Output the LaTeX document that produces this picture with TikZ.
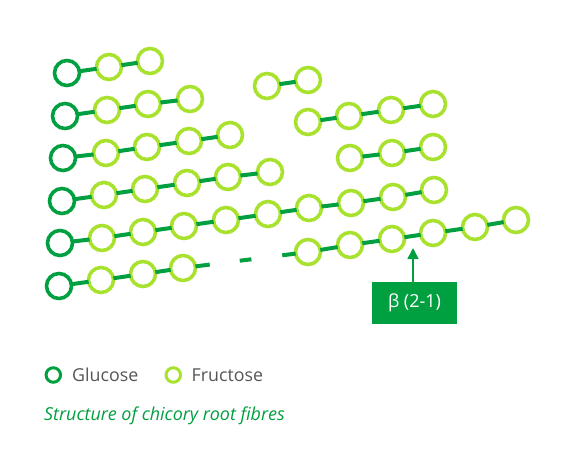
\documentclass[tikz,border=0pt]{standalone}
\usepackage{fontspec}
\setmainfont{Open Sans}
\usetikzlibrary{calc,arrows.meta}
\definecolor{dkgreen}{RGB}{0,160,64}
\definecolor{ltgreen}{RGB}{168,226,46}
\definecolor{txtgray}{RGB}{85,85,85}
\tikzset{
  glu/.style={circle,draw=dkgreen,line width=3.6pt,minimum size=25pt,inner sep=0pt,outer sep=0pt},
  fru/.style={circle,draw=ltgreen,line width=3.6pt,minimum size=25pt,inner sep=0pt,outer sep=0pt},
  bond/.style={draw=dkgreen,line width=4pt},
  lglu/.style={circle,draw=dkgreen,line width=3pt,minimum size=14.5pt,inner sep=0pt},
  lfru/.style={circle,draw=ltgreen,line width=3pt,minimum size=14.5pt,inner sep=0pt},
  legtext/.style={text=txtgray,font=\fontsize{17.8}{20}\selectfont,anchor=west,inner sep=0pt},
}
\begin{document}
\begin{tikzpicture}[x=1pt,y=-1pt]
\useasboundingbox (0,0) rectangle (583,455);
% row 1
\node[glu] (a1) at (67,73) {};
\node[fru] (a2) at (109,67) {};
\node[fru] (a3) at (150,61) {};
\draw[bond] (a1)--(a2)--(a3);
% row 2
\node[glu] (b1) at (65,116) {};
\node[fru] (b2) at (107,110) {};
\node[fru] (b3) at (148,104) {};
\node[fru] (b4) at (190,99) {};
\draw[bond] (b1)--(b2)--(b3)--(b4);
% row 3
\node[glu] (c1) at (63,158) {};
\node[fru] (c2) at (106,153) {};
\node[fru] (c3) at (147,147) {};
\node[fru] (c4) at (189,141) {};
\node[fru] (c5) at (230,135) {};
\draw[bond] (c1)--(c2)--(c3)--(c4)--(c5);
% row 4
\node[glu] (d1) at (62,201) {};
\node[fru] (d2) at (104,195) {};
\node[fru] (d3) at (145,189) {};
\node[fru] (d4) at (187,183) {};
\node[fru] (d5) at (228,177) {};
\node[fru] (d6) at (270,172) {};
\draw[bond] (d1)--(d2)--(d3)--(d4)--(d5)--(d6);
% row 5
\node[glu] (e1) at (60,243) {};
\node[fru] (e2) at (102,238) {};
\node[fru] (e3) at (143,232) {};
\node[fru] (e4) at (184,226) {};
\node[fru] (e5) at (226,220) {};
\node[fru] (e6) at (268,214) {};
\node[fru] (e7) at (309,208) {};
\node[fru] (e8) at (351,203) {};
\node[fru] (e9) at (393,197) {};
\node[fru] (e10) at (434,190) {};
\draw[bond] (e1)--(e2)--(e3)--(e4)--(e5)--(e6)--(e7)--(e8)--(e9)--(e10);
% row 6
\node[glu] (f1) at (59,286) {};
\node[fru] (f2) at (101,280) {};
\node[fru] (f3) at (143,274) {};
\node[fru] (f4) at (183,268) {};
\node[fru] (f5) at (308,252) {};
\node[fru] (f6) at (350,245) {};
\node[fru] (f7) at (392,239) {};
\node[fru] (f8) at (433,233) {};
\node[fru] (f9) at (475,227) {};
\node[fru] (f10) at (516,220) {};
\draw[bond] (f1)--(f2)--(f3)--(f4);
\draw[bond] (f5)--(f6)--(f7)--(f8)--(f9)--(f10);
\coordinate (g1) at ($(f4)!0.214!(f5)$);
\coordinate (g2) at ($(f4)!0.454!(f5)$);
\coordinate (g3) at ($(f4)!0.547!(f5)$);
\coordinate (g4) at ($(f4)!0.794!(f5)$);
\draw[bond] (f4)--(g1);
\draw[bond] (g2)--(g3);
\draw[bond] (g4)--(f5);
% upper right fragments
\node[fru] (p1) at (267,86) {};
\node[fru] (p2) at (308,80) {};
\draw[bond] (p1)--(p2);
\node[fru] (q1) at (308,122) {};
\node[fru] (q2) at (349,116) {};
\node[fru] (q3) at (391,110) {};
\node[fru] (q4) at (433,104) {};
\draw[bond] (q1)--(q2)--(q3)--(q4);
\node[fru] (r1) at (350,158) {};
\node[fru] (r2) at (392,153) {};
\node[fru] (r3) at (433,147) {};
\draw[bond] (r1)--(r2)--(r3);
% label box
\node[fill=dkgreen,text=white,minimum width=85.5pt,minimum height=41.5pt,inner sep=0pt,font=\fontsize{18}{20}\selectfont] (lbl) at (414.5,303) {β (2-1)};
\coordinate (tip) at (413,248);
\draw[draw=dkgreen,line width=1.5pt,-{Triangle[width=11pt,length=11pt]}] (lbl.north -| tip) -- (tip);
% legend
\node[lglu] (lg) at (53.3,375) {};
\node[legtext] (lgt) at (72,375) {Glucose};
\node[lfru] (lf) at (173.3,375) {};
\node[legtext] (lft) at (191.5,375) {Fructose};
\node[anchor=base west,inner sep=0pt,text=dkgreen,font=\fontsize{17.9}{20}\selectfont\itshape] (cap) at (44,420.5) {Structure of chicory root fibres};
\end{tikzpicture}
\end{document}
